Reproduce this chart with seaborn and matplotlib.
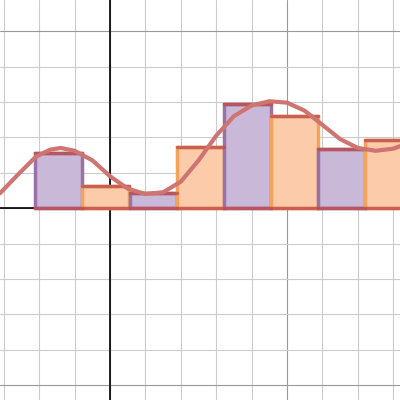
import matplotlib
matplotlib.use("Agg")
import matplotlib.pyplot as plt
import seaborn as sns
import numpy as np

sns.set_style("white")

bar_left = [-2.12, -0.79, 0.55, 1.88, 3.21, 4.54, 5.87, 7.2]
bar_width = 1.33
bar_height = [1.55, 0.62, 0.42, 1.72, 2.94, 2.60, 1.67, 1.92]
bar_kind = ["p", "o", "p", "o", "p", "o", "p", "o"]

curve_x = [-3.11, -2.6, -2.1, -1.7, -1.4, -1.0, -0.5, 0.0, 0.5, 1.0, 1.5, 2.0, 2.5, 3.0, 3.5, 4.0, 4.5, 5.0, 5.5, 6.0, 6.5, 7.0, 7.5, 8.0, 8.19]
curve_y = [0.42, 0.95, 1.45, 1.65, 1.70, 1.62, 1.35, 0.90, 0.55, 0.40, 0.45, 0.75, 1.35, 2.05, 2.60, 2.90, 3.02, 2.98, 2.75, 2.35, 1.95, 1.70, 1.62, 1.68, 1.75]

fig, ax = plt.subplots(figsize=(4, 4), dpi=100)
fig.subplots_adjust(0, 0, 1, 1)
ax.set_xlim(-3.11, 8.19)
ax.set_ylim(-5.42, 5.88)
for v in np.arange(-3, 9):
    ax.axvline(v, color="#cccccc" if v % 5 else "#999999", lw=0.8, zorder=0)
for v in np.arange(-5, 6):
    ax.axhline(v, color="#cccccc" if v % 5 else "#999999", lw=0.8, zorder=0)
ax.axvline(0, color="black", lw=1.2, zorder=1)
ax.axhline(0, color="black", lw=1.2, zorder=1)

for l, h, k in zip(bar_left, bar_height, bar_kind):
    fc = "#c9b8d8" if k == "p" else "#fbcbaa"
    ec = "#9a72a8" if k == "p" else "#f4a35c"
    ax.bar(l, h, width=bar_width, align="edge", color=fc, edgecolor=ec, lw=2.5, zorder=2)
    ax.plot([l, l + bar_width], [h, h], color="#c0504d", lw=2.5, zorder=3, alpha=0.8)
    ax.plot([l, l + bar_width], [0, 0], color="#c0504d", lw=2.5, zorder=3, alpha=0.8)

sns.lineplot(x=curve_x, y=curve_y, ax=ax, color="#cf7470", lw=3, zorder=4, sort=False)
ax.set_xticks([]); ax.set_yticks([])
for s in ax.spines.values():
    s.set_visible(False)
fig.savefig("out.png", dpi=100)
